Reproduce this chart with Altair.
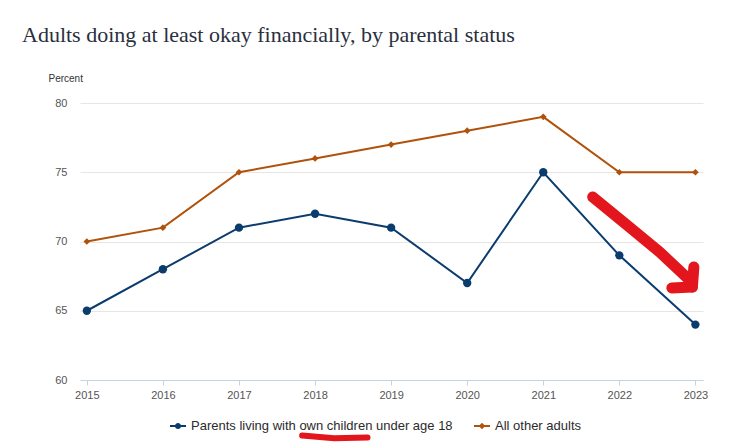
import altair as alt
import pandas as pd

years = [2015, 2016, 2017, 2018, 2019, 2020, 2021, 2022, 2023]
parents = [65, 68, 71, 72, 71, 67, 75, 69, 64]
others = [70, 71, 75, 76, 77, 78, 79, 75, 75]
series_names = ["Parents living with own children under age 18", "All other adults"]
series_colors = ["#0b3c6e", "#b0520c"]

# hand-drawn annotation (red arrow + underline), in data coordinates
arrow_seg = ["shaft", "shaft", "shaft", "shaft", "headv", "headv", "headh", "headh"]
arrow_x = [2021.65, 2022.10, 2022.53, 2022.95, 2022.98, 2022.96, 2022.69, 2022.96]
arrow_y = [73.21, 71.19, 69.24, 67.08, 68.16, 66.71, 66.64, 66.71]
under_x = [2017.83, 2018.25, 2018.69]
under_y = [56.0, 55.8, 55.85]

rows = []
for i, y in enumerate(years):
    rows.append({"year": y, "value": parents[i], "series": series_names[0]})
    rows.append({"year": y, "value": others[i], "series": series_names[1]})
df = pd.DataFrame(rows)

arrow_df = pd.DataFrame({"seg": arrow_seg, "x": arrow_x, "y": arrow_y})
under_df = pd.DataFrame({"seg": ["u"] * len(under_x), "x": under_x, "y": under_y})

xscale = alt.Scale(domain=[2014.91, 2023.1], nice=False, zero=False)
yscale = alt.Scale(domain=[60, 80], nice=False, zero=False)
cscale = alt.Scale(domain=series_names, range=series_colors)

# legend glyphs: a short filled bar (the line) plus the marker
circle_path = ("M-1,-0.12L1,-0.12L1,0.12L-1,0.12Z"
               "M0.38,0A0.38,0.38,0,1,1,-0.38,0A0.38,0.38,0,1,1,0.38,0Z")
diamond_path = ("M-1,-0.12L1,-0.12L1,0.12L-1,0.12Z"
                "M0,-0.4L0.4,0L0,0.4L-0.4,0Z")

x_enc = alt.X("year:Q", scale=xscale,
              axis=alt.Axis(values=years, format="d", grid=False, title=None,
                            domainColor="#c8d2e3", tickColor="#c8d2e3", tickSize=5,
                            labelPadding=4, labelFontSize=11, labelColor="#555555",
                            labelFont="Liberation Sans"))
y_enc = alt.Y("value:Q", scale=yscale,
              axis=alt.Axis(values=[60, 65, 70, 75, 80], grid=True, gridColor="#e6e6e6",
                            domain=False, ticks=False, labelPadding=13, labelFontSize=11,
                            labelColor="#555555", labelFont="Liberation Sans",
                            title="Percent", titleAngle=0, titleAlign="left",
                            titleBaseline="bottom", titleX=-32, titleY=-20,
                            titleFontSize=10, titleFontWeight="normal",
                            titleColor="#333333", titleFont="Liberation Sans"))

base = alt.Chart(df)
p_data = base.transform_filter(alt.datum.series == series_names[0])
o_data = base.transform_filter(alt.datum.series == series_names[1])

line_p = p_data.mark_line(strokeWidth=2, color=series_colors[0]).encode(x=x_enc, y=y_enc)
line_o = o_data.mark_line(strokeWidth=2, color=series_colors[1]).encode(x="year:Q", y="value:Q")
circles = p_data.mark_point(shape="circle", filled=True, size=70, opacity=1,
                            color=series_colors[0]).encode(x="year:Q", y="value:Q")
diamonds = o_data.mark_point(shape="diamond", filled=True, size=45, opacity=1,
                             color=series_colors[1]).encode(x="year:Q", y="value:Q")

leg = alt.Legend(title=None, orient="none", legendX=90, legendY=315, direction="horizontal",
                 labelFont="Liberation Sans", labelFontSize=13, labelColor="#2b2b2b",
                 symbolStrokeWidth=0, columnPadding=21, labelOffset=5, padding=0,
                 symbolSize=256, labelLimit=500, symbolOpacity=1)
# legend-only layer: draws no marks itself (entries come from the explicit scale domains)
legend_carrier = base.transform_filter("false").mark_point(size=256, filled=True,
                                                            opacity=1).encode(
    x="year:Q", y="value:Q",
    color=alt.Color("series:N", scale=cscale, legend=leg),
    shape=alt.Shape("series:N", scale=alt.Scale(domain=series_names,
                                                range=[circle_path, diamond_path]), legend=leg),
)

arrow = alt.Chart(arrow_df).mark_line(color="#e3161d", strokeWidth=11, strokeCap="round",
                                      strokeJoin="round").encode(
    x="x:Q", y="y:Q", detail="seg:N", order=alt.Order("x:Q"))
underline = alt.Chart(under_df).mark_line(color="#e3161d", strokeWidth=6, strokeCap="round").encode(
    x="x:Q", y="y:Q", detail="seg:N")

chart = alt.layer(line_p, line_o, circles, diamonds, legend_carrier, arrow, underline).properties(
    width=623, height=277,
    autosize=alt.AutoSizeParams(type="none"),
    padding={"left": 72, "top": 95, "right": 31, "bottom": 62},
    title=alt.TitleParams(
        "Adults doing at least okay financially, by parental status",
        anchor="start", frame="group", dx=-58, offset=26,
        font="Liberation Serif", fontSize=22, fontWeight="normal", color="#2a2f3d"),
).configure_view(stroke=None)

chart.save("out.html", embed_options={"renderer": "svg", "actions": False})
